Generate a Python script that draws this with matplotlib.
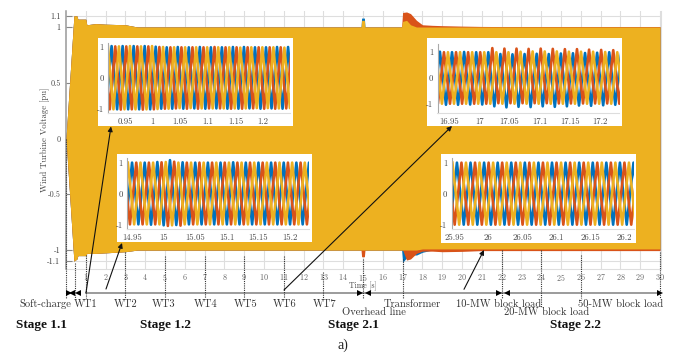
import numpy as np
import matplotlib
matplotlib.use("Agg")
import matplotlib.pyplot as plt

BLUE = "#0072BD"
RED = "#D95319"
YELLOW = "#EDB120"
GRID = "#dedede"
TEXT = "#444444"

# main panel, envelope of the three phases
main_t = [0, 0.4, 0.55, 0.6, 1, 1.05, 1.5, 2, 3, 3.6, 5, 14.9, 14.93, 15.07, 15.1, 16.95,
          17, 17.2, 17.4, 17.7, 18, 18.5, 19, 20, 21, 22, 24, 26, 28, 30]
yellow_up = [0, 1.1, 1.1, 1.07, 1.07, 1.02, 1.03, 1.025, 1.02, 1.0, 1.0, 1.0, 1.06, 1.06, 1.0, 1.0,
             1.05, 1.06, 1.02, 1.0, 1.0, 1.0, 1.0, 1.0, 1.0, 1.0, 1.0, 1.0, 1.0, 1.0]
yellow_low = [0, -1.1, -1.08, -1.05, -1.05, -1.03, -1.03, -1.025, -1.015, -1.0, -1.0, -1.0, -1.0, -1.0, -1.0, -1.0,
              -1.0, -1.0, -1.0, -1.0, -0.99, -0.99, -0.99, -0.99, -0.99, -0.99, -0.99, -0.99, -0.99, -0.99]
red_up = [0, 1.1, 1.1, 1.07, 1.07, 1.02, 1.03, 1.025, 1.02, 1.0, 1.0, 1.0, 1.0, 1.0, 1.0, 1.0,
          1.13, 1.135, 1.12, 1.06, 1.02, 1.015, 1.012, 1.008, 1.005, 1.004, 1.004, 1.004, 1.004, 1.004]
red_low = [0, -1.1, -1.08, -1.05, -1.05, -1.03, -1.03, -1.025, -1.015, -1.0, -1.0, -1.0, -1.06, -1.06, -1.0, -1.0,
           -1.0, -1.09, -1.08, -1.03, -1.01, -1.01, -1.015, -1.012, -1.005, -1.005, -1.005, -1.005, -1.005, -1.005]
blue_up = [0, 1.1, 1.1, 1.07, 1.07, 1.02, 1.03, 1.025, 1.02, 1.0, 1.0, 1.0, 1.08, 1.08, 1.0, 1.0,
           1.0, 1.0, 1.0, 1.0, 1.0, 1.0, 1.0, 1.0, 1.0, 1.0, 1.0, 1.0, 1.0, 1.0]
blue_low = [0, -1.1, -1.08, -1.05, -1.05, -1.03, -1.03, -1.025, -1.015, -1.0, -1.0, -1.0, -1.0, -1.0, -1.0, -1.0,
            -1.11, -1.07, -1.04, -1.045, -1.02, -1.0, -1.0, -1.0, -1.0, -1.0, -1.0, -1.0, -1.0, -1.0]

y_ticks = [-1.1, -1, -0.5, 0, 0.5, 1, 1.1]
y_tick_labels = ["-1.1", "-1", "-0.5", "0", "0.5", "1", "1.1"]
x_ticks = list(range(1, 31))

# dotted event lines: time, where they start (pu) and where they end (pu)
event_t = [0, 0.45, 1, 3, 5, 7, 9, 11, 13, 15, 17, 22, 24, 26, 30]
event_top = [0, -1.12, -1.04, -1.02, -1.05, -1.05, -1.05, -1.05, -1.2, -1.08, -1.08, -1.0, -1.0, -1.04, -1.02]
event_bottom = [-1.43, -1.43, -1.43, -1.43, -1.43, -1.43, -1.43, -1.43, -1.43, -1.43, -1.43, -1.43, -1.51, -1.43, -1.43]
arrow_right_t = [0.14, 14.87, 21.87, 30.0]
arrow_left_t = [0.31, 0.63, 15.25, 22.27]

# insets: times of the successive blue crests/troughs, then peak size of each phase
inset1_t = [0.9055, 0.9155, 0.9255, 0.9355, 0.9455, 0.9555, 0.9655, 0.9755, 0.9855, 0.9955, 1.0055, 1.0155, 1.0255,
            1.0355, 1.0455, 1.0555, 1.0655, 1.0755, 1.0855, 1.0955, 1.1055, 1.1155, 1.1255, 1.1355, 1.1455, 1.1555,
            1.1655, 1.1755, 1.1855, 1.1955, 1.2055, 1.2155, 1.2255, 1.2355, 1.2455, 1.2555, 1.2655]
inset1_blue = [1.02, 1.02, 1.03, 1.02, 1.03, 1.02, 1.03, 1.02, 1.03, 1.02, 1.01, 1.0, 0.99, 1.0, 1.0, 1.0, 0.99, 0.99, 1.0,
               1.0, 0.99, 0.99, 0.99, 1.0, 1.0, 1.0, 1.0, 0.99, 0.99, 1.0, 0.99, 0.99, 1.0, 1.0, 1.0, 1.0, 1.0]
inset1_red = [1.02, 1.02, 1.02, 1.03, 1.02, 1.02, 1.02, 1.03, 1.02, 1.02, 1.0, 1.0, 0.99, 0.99, 0.99, 1.0, 0.99, 1.0, 0.99,
              0.99, 1.0, 0.99, 0.99, 1.0, 0.99, 1.0, 0.99, 0.99, 0.99, 1.0, 0.99, 1.0, 0.99, 0.99, 0.99, 0.99, 0.99]
inset1_yellow = [1.02, 1.02, 1.02, 1.02, 1.03, 1.02, 1.02, 1.02, 1.03, 1.01, 1.0, 1.0, 0.99, 0.98, 0.99, 0.98, 0.99, 0.99, 0.99,
                 0.99, 0.99, 0.99, 0.99, 0.99, 0.98, 0.99, 0.99, 0.98, 0.99, 0.98, 0.99, 0.99, 0.98, 0.98, 0.98, 0.98, 0.98]

inset2_t = [14.93, 14.94, 14.95, 14.96, 14.97, 14.98, 14.99, 15.0, 15.01, 15.02, 15.03, 15.04, 15.05, 15.06, 15.07, 15.08,
            15.09, 15.1, 15.11, 15.12, 15.13, 15.14, 15.15, 15.16, 15.17, 15.18, 15.19, 15.2, 15.21, 15.22, 15.23, 15.24, 15.25]
inset2_blue = [1.0, 1.0, 1.0, 1.0, 1.0, 1.01, 1.02, 1.03, 1.08, 1.02, 1.01, 1.0, 1.0, 1.0, 1.0, 1.0, 1.0,
               1.0, 1.01, 1.0, 1.0, 1.0, 1.0, 1.0, 1.0, 1.0, 1.0, 1.0, 1.0, 1.0, 1.0, 1.0, 1.0]
inset2_red = [1.0, 1.0, 1.0, 1.0, 1.0, 1.0, 1.01, 1.05, 1.03, 1.04, 1.0, 1.0, 1.0, 1.0, 1.0, 1.0, 1.0,
              1.0, 1.0, 1.0, 1.0, 1.0, 1.0, 1.0, 1.0, 1.0, 1.0, 1.0, 1.0, 1.0, 1.0, 1.0, 1.0]
inset2_yellow = [1.0, 1.0, 1.0, 1.0, 1.0, 1.0, 1.02, 1.03, 1.0, 1.0, 1.0, 1.0, 1.0, 1.0, 1.0, 1.0, 1.0,
                 1.0, 1.0, 1.0, 1.0, 1.0, 1.0, 1.0, 1.0, 1.0, 1.0, 1.0, 1.0, 1.0, 1.0, 1.0, 1.0]

inset3_t = [16.915, 16.925, 16.935, 16.945, 16.955, 16.965, 16.975, 16.985, 16.995, 17.005, 17.015, 17.025, 17.035, 17.045,
            17.055, 17.065, 17.075, 17.085, 17.095, 17.105, 17.115, 17.125, 17.135, 17.145, 17.155, 17.165, 17.175, 17.185,
            17.195, 17.205, 17.215, 17.225, 17.235, 17.245]
inset3_blue = [1.0, 1.03, 1.02, 1.04, 1.0, 1.04, 1.01, 1.03, 1.0, 1.03, 1.0, 1.1, 0.93, 1.14, 0.92, 1.12, 0.93, 1.13,
               0.94, 1.1, 0.93, 1.12, 0.95, 1.1, 0.96, 1.07, 0.97, 1.08, 0.98, 1.06, 1.0, 1.04, 1.0, 1.03]
inset3_red = [1.0, 1.0, 1.0, 1.0, 1.0, 1.0, 1.0, 1.0, 1.0, 1.0, 1.16, 0.98, 1.14, 0.98, 1.14, 0.98, 1.13, 0.98,
              1.14, 0.98, 1.13, 0.99, 1.12, 0.99, 1.12, 0.99, 1.1, 0.99, 1.09, 0.99, 1.08, 1.0, 1.06, 1.0]
inset3_yellow = [1.0, 1.0, 1.0, 1.0, 1.0, 1.0, 1.0, 1.0, 1.0, 1.0, 1.0, 1.0, 1.0, 1.0, 1.02, 1.0, 1.03, 1.0,
                 1.03, 1.0, 1.03, 1.0, 1.02, 1.0, 1.02, 1.0, 1.02, 1.0, 1.01, 1.0, 1.0, 1.0, 1.0, 1.0]

inset4_t = [25.934, 25.944, 25.954, 25.964, 25.974, 25.984, 25.994, 26.004, 26.014, 26.024, 26.034, 26.044, 26.054, 26.064, 26.074,
            26.084, 26.094, 26.104, 26.114, 26.124, 26.134, 26.144, 26.154, 26.164, 26.174, 26.184, 26.194, 26.204, 26.214, 26.224]
inset4_blue = [1.0, 1.0, 1.0, 1.0, 1.0, 1.0, 1.0, 1.0, 1.0, 1.0, 1.0, 1.0, 1.0, 1.0, 1.0,
               1.0, 1.0, 1.0, 1.0, 1.0, 1.0, 1.0, 1.0, 1.0, 1.0, 1.0, 1.0, 1.0, 1.0, 1.0]
inset4_red = [1.0, 1.0, 1.0, 1.0, 1.0, 1.0, 1.0, 1.0, 1.0, 1.0, 1.0, 1.0, 1.0, 1.0, 1.0,
              1.0, 1.0, 1.0, 1.0, 1.0, 1.0, 1.0, 1.0, 1.0, 1.0, 1.0, 1.0, 1.0, 1.0, 1.0]
inset4_yellow = [1.0, 1.0, 1.0, 1.0, 1.0, 1.0, 1.0, 1.0, 1.0, 1.0, 1.0, 1.0, 1.0, 1.0, 1.0,
                 1.0, 1.0, 1.0, 1.0, 1.0, 1.0, 1.0, 1.0, 1.0, 1.0, 1.0, 1.0, 1.0, 1.0, 1.0]

inset1_ticks = [0.95, 1, 1.05, 1.1, 1.15, 1.2]
inset1_labels = ["0.95", "1", "1.05", "1.1", "1.15", "1.2"]
inset2_ticks = [14.95, 15, 15.05, 15.1, 15.15, 15.2]
inset2_labels = ["14.95", "15", "15.05", "15.1", "15.15", "15.2"]
inset3_ticks = [16.95, 17, 17.05, 17.1, 17.15, 17.2]
inset3_labels = ["16.95", "17", "17.05", "17.1", "17.15", "17.2"]
inset4_ticks = [25.95, 26, 26.05, 26.1, 26.15, 26.2]
inset4_labels = ["25.95", "26", "26.05", "26.1", "26.15", "26.2"]

RED_LAG = 0.00667
YELLOW_LAG = 0.01333


def pixel_axes(fig, left, top, right, bottom, **kw):
    return fig.add_axes([left / 680, 1 - bottom / 357, (right - left) / 680, (bottom - top) / 357], **kw)


def draw_inset(fig, box, area, xlim, ylim, ticks, labels, t, blue, red, yellow):
    back = pixel_axes(fig, *box, zorder=5)
    back.set_xticks([])
    back.set_yticks([])
    for s in back.spines.values():
        s.set_visible(False)
    ax = pixel_axes(fig, *area, zorder=6)
    ax.patch.set_alpha(0)
    t = np.array(t)
    signs = np.where(np.arange(len(t)) % 2 == 0, 1, -1)
    ax.plot(t, signs * np.array(blue), color=BLUE, lw=1.9, solid_joinstyle="round")
    ax.plot(t + RED_LAG, signs * np.array(red), color=RED, lw=1.9, solid_joinstyle="round")
    ax.plot(t + YELLOW_LAG, signs * np.array(yellow), color=YELLOW, lw=1.9, solid_joinstyle="round")
    ax.set_xlim(*xlim)
    ax.set_ylim(*ylim)
    ax.set_xticks(ticks)
    ax.set_xticklabels(labels)
    ax.set_yticks([-1, 0, 1])
    ax.set_yticklabels(["-1", "0", "1"])
    ax.tick_params(length=0, labelsize=6.3, labelcolor=TEXT, pad=3)
    ax.spines["top"].set_visible(False)
    ax.spines["right"].set_visible(False)
    ax.spines["left"].set_color("#aaaaaa")
    ax.spines["bottom"].set_color("#dddddd")


def main():
    plt.rcParams["font.family"] = ["cmr10", "DejaVu Serif"]
    plt.rcParams["axes.unicode_minus"] = False
    plt.rcParams["axes.formatter.use_mathtext"] = True
    fig = plt.figure(figsize=(6.8, 3.57), dpi=100)

    ax = pixel_axes(fig, 66, 11, 661, 269)
    ax.fill_between(main_t, blue_low, blue_up, color=BLUE, lw=0, zorder=3)
    ax.fill_between(main_t, red_low, red_up, color=RED, lw=0, zorder=4)
    ax.fill_between(main_t, yellow_low, yellow_up, color=YELLOW, lw=0, zorder=5)
    ax.set_xlim(0, 30.05)
    ax.set_ylim(-1.17, 1.1435)
    ax.set_xticks(x_ticks)
    ax.set_yticks(y_ticks)
    ax.set_yticklabels(y_tick_labels)
    ax.grid(True, color=GRID, lw=0.8)
    ax.set_axisbelow(True)
    ax.tick_params(axis="x", length=0, labelsize=5.8, labelcolor="#666666", pad=2)
    ax.tick_params(axis="y", length=4, direction="in", color="#888888", labelsize=5.8, labelcolor=TEXT, pad=4)
    ax.spines["top"].set_visible(False)
    ax.spines["right"].set_color(GRID)
    ax.spines["bottom"].set_color(GRID)
    ax.spines["left"].set_color("#999999")
    ax.spines["left"].set_linewidth(1.1)

    # stage axis under the plot
    ax.plot([1, 30], [-1.383, -1.383], color="#8a8a8a", lw=1.2, clip_on=False, zorder=6)
    for t, top, bottom in zip(event_t, event_top, event_bottom):
        ax.plot([t, t], [top, bottom], color="#333333", lw=0.8, ls=(0, (1, 1)), clip_on=False, zorder=7)
    ax.plot(arrow_right_t, [-1.383] * len(arrow_right_t), ">", color="black", ms=4, mew=0, clip_on=False, zorder=8)
    ax.plot(arrow_left_t, [-1.383] * len(arrow_left_t), "<", color="black", ms=4, mew=0, clip_on=False, zorder=8)

    draw_inset(fig, (97.5, 38, 292.5, 125.5), (108, 43, 290, 113), (0.919, 1.249), (-1.14, 1.13),
               inset1_ticks, inset1_labels, inset1_t, inset1_blue, inset1_red, inset1_yellow)
    draw_inset(fig, (116.5, 154, 312, 242), (127, 158, 309, 229), (14.942, 15.23), (-1.15, 1.15),
               inset2_ticks, inset2_labels, inset2_t, inset2_blue, inset2_red, inset2_yellow)
    draw_inset(fig, (426.5, 38, 622, 125.5), (437.5, 44.5, 619.5, 113), (16.931, 17.232), (-1.36, 1.3),
               inset3_ticks, inset3_labels, inset3_t, inset3_blue, inset3_red, inset3_yellow)
    draw_inset(fig, (440.5, 154, 635.5, 242.5), (451.5, 158, 633.5, 229), (25.946, 26.214), (-1.14, 1.15),
               inset4_ticks, inset4_labels, inset4_t, inset4_blue, inset4_red, inset4_yellow)

    # everything placed by page position goes on a transparent overlay
    over = fig.add_axes([0, 0, 1, 1], zorder=10)
    over.set_xlim(0, 680)
    over.set_ylim(357, 0)
    over.axis("off")

    over.text(363, 286.5, "Time [s]", fontsize=5.6, color=TEXT, ha="center", va="center")
    over.text(45, 140, "Wind Turbine Voltage [pu]", fontsize=6.3, color=TEXT, rotation=90, ha="center", va="center")

    labels = [("Soft-charge", 45, 304), ("WT1", 86, 304), ("WT2", 126, 304), ("WT3", 164, 304),
              ("WT4", 206, 304), ("WT5", 245.5, 304), ("WT6", 285, 304), ("WT7", 325, 304),
              ("Overhead line", 374, 312.7), ("Transformer", 412.7, 304), ("10-MW block load", 499, 304),
              ("20-MW block load", 547, 312.7), ("50-MW block load", 620.7, 304)]
    for name, x, y in labels:
        over.text(x, y, name, fontsize=7.6, color="#333333", ha="center", va="center")

    stages = [("Stage 1.1", 41), ("Stage 1.2", 165), ("Stage 2.1", 354), ("Stage 2.2", 575.7)]
    for name, x in stages:
        over.text(x, 325, name, fontsize=9.5, fontweight="bold", family="Liberation Serif",
                  color="#111111", ha="center", va="center")
    over.text(343, 345, "a)", fontsize=10, family="Liberation Serif", color="#222222", ha="center", va="center")

    pointers = [((86, 292.7), (111, 126.5)), ((106, 289), (122, 243)), ((284, 290), (452, 126)), ((464, 289.3), (484, 250))]
    for start, end in pointers:
        over.annotate("", xy=end, xytext=start,
                      arrowprops=dict(arrowstyle="-|>", color="#111111", lw=0.8, mutation_scale=7, shrinkA=0, shrinkB=0))

    fig.savefig("out.png", dpi=100)


if __name__ == "__main__":
    main()
